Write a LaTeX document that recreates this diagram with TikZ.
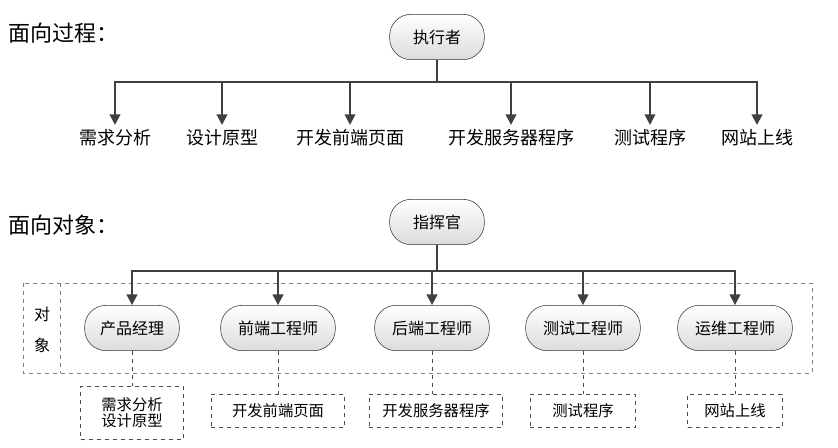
\documentclass[tikz,border=0pt]{standalone}
\usepackage{fontspec}
\setmainfont{Noto Sans CJK SC}
\usetikzlibrary{arrows.meta}
\tikzset{
  actor/.style={draw=black!80, rounded corners=16pt, minimum height=34pt, inner xsep=8pt,
    top color=white, bottom color=black!14, font=\fontsize{12}{14}\selectfont},
  task/.style={font=\fontsize{13.5}{16}\selectfont},
  job/.style={draw=black!70, dashed, font=\fontsize{11.5}{14}\selectfont, inner sep=4pt, align=center},
  bar/.style={draw=black!75, line width=1.5pt},
  arr/.style={bar, -{Triangle[length=8pt,width=8pt]}},
}
\begin{document}
\begin{tikzpicture}[x=0.75pt, y=-0.75pt]
    \useasboundingbox (0,0) rectangle (838,447);

    \node[task, anchor=west] (t1) at (4,33) {\fontsize{16.5}{19}\selectfont 面向过程：};
    \node[actor, minimum width=71pt] (a) at (437,37) {执行者};
    \coordinate (ab) at (437,82);
    \node[task] (p1) at (115,138) {需求分析};
    \node[task] (p2) at (222,138) {设计原型};
    \node[task] (p3) at (350,138) {开发前端页面};
    \node[task] (p4) at (511,138) {开发服务器程序};
    \node[task] (p5) at (650,138) {测试程序};
    \node[task] (p6) at (757,138) {网站上线};
    \draw[bar] (a) -- (ab);
    \draw[bar] (115,82) -- (757,82);
    \foreach \n/\x in {p1/115,p2/222,p3/350,p4/511,p5/650,p6/757}
      \draw[arr] (\x,81) -- (\n.north);

    \node[task, anchor=west] (t2) at (4,225) {\fontsize{16.5}{19}\selectfont 面向对象：};
    \node[actor, minimum width=71pt] (b) at (437,222) {指挥官};
    \coordinate (bb) at (437,271);
    \draw[dashed, draw=black!50] (23,283) rectangle (812,373);
    \draw[dashed, draw=black!50] (60,283) -- (60,373);
    \node[font=\fontsize{12}{14}\selectfont] (o1) at (42,314) {对};
    \node[font=\fontsize{12}{14}\selectfont] (o2) at (42,345) {象};
    \node[actor, minimum width=71pt] (c1) at (132,328) {产品经理};
    \node[actor, minimum width=86pt] (c2) at (278,328) {前端工程师};
    \node[actor, minimum width=86pt] (c3) at (432,328) {后端工程师};
    \node[actor, minimum width=86pt] (c4) at (583,328) {测试工程师};
    \node[actor, minimum width=86pt] (c5) at (735,328) {运维工程师};
    \draw[bar] (b) -- (bb);
    \draw[bar] (132,271) -- (735,271);
    \foreach \n/\x in {c1/132,c2/278,c3/432,c4/583,c5/735}
      \draw[arr] (\x,270) -- (\n.north);

    \node[job, minimum width=77pt, minimum height=40pt] (d1) at (132,413) {需求分析\\[-2pt]设计原型};
    \node[job, minimum width=100pt, minimum height=25pt] (d2) at (278,411) {开发前端页面};
    \node[job, minimum width=100pt, minimum height=25pt] (d3) at (436,411) {开发服务器程序};
    \node[job, minimum width=79pt, minimum height=25pt] (d4) at (583,411) {测试程序};
    \node[job, minimum width=71pt, minimum height=25pt] (d5) at (735,411) {网站上线};
    \foreach \i in {1,...,5}
      \draw[dashed, draw=black!70] (c\i.south) -- (c\i.south |- d\i.north);
\end{tikzpicture}
\end{document}
